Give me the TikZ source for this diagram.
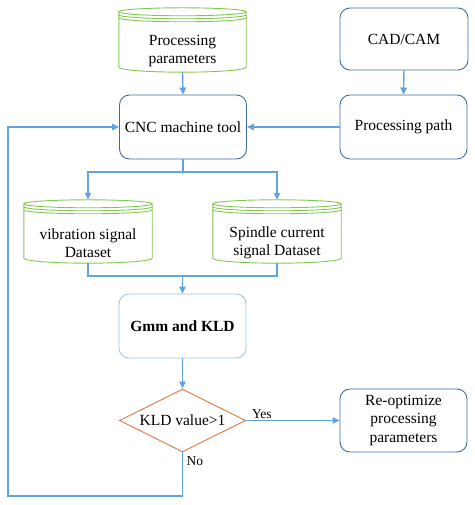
\documentclass[tikz,border=0pt]{standalone}
\usepackage{fontspec}
\setmainfont{Liberation Serif}
\usetikzlibrary{shapes.geometric,arrows.meta,calc}
\definecolor{conn}{RGB}{96,163,226}
\definecolor{boxb}{RGB}{62,108,158}
\definecolor{gmmb}{RGB}{160,196,230}
\definecolor{cylg}{RGB}{130,200,80}
\definecolor{diao}{RGB}{226,120,60}
\tikzset{
  body/.style={font=\fontsize{15.5}{18.5}\selectfont, align=center, inner sep=0pt},
  rbox/.style={body, draw=boxb, line width=0.9pt, rounded corners=10pt, minimum width=127, minimum height=64},
  gbox/.style={body, draw=gmmb, line width=0.9pt, rounded corners=10pt, minimum width=127, minimum height=64},
  cylbody/.style={inner sep=0pt, minimum width=128, minimum height=63},
  cylst/.style={draw=cylg, line width=0.9pt},
  dia/.style={body, diamond, draw=diao, line width=0.9pt, minimum width=126, minimum height=63, aspect=2},
  conline/.style={draw=conn, line width=1.4pt},
  arr/.style={conline, -{Triangle[length=7pt,width=6.5pt]}},
  lab/.style={font=\fontsize{13.5}{16}\selectfont, inner sep=1pt},
}
\newcommand{\drawcyl}[1]{%
  \draw[cylst] let \p1=(#1.north west), \p2=(#1.south east), \n1={(\x2-\x1)/2} in
    (\x1,\y1-4pt) -- (\x1,\y2+5pt) arc[start angle=180,end angle=360,x radius=\n1,y radius=5pt] -- (\x2,\y1-4pt)
    (\x1+\n1,\y1-4pt) ellipse[x radius=\n1,y radius=4pt]
    (\x1,\y1-7pt) arc[start angle=180,end angle=360,x radius=\n1,y radius=4pt]
    (\x1,\y1-10pt) arc[start angle=180,end angle=360,x radius=\n1,y radius=4pt];
}
\begin{document}
\begin{tikzpicture}[x=1pt,y=1pt]
\useasboundingbox (0,0) rectangle (474,505);
% nodes
\node[cylbody, minimum width=127, minimum height=64] (pp) at (182.5,465) {};
\node[body] (ppt) at (182.5,454) {Processing\\parameters};
\node[rbox, minimum width=128, minimum height=62] (cad) at (404,466) {CAD/CAM};
\node[rbox] (cnc) at (183,378) {CNC machine tool};
\node[rbox] (path) at (403.5,378) {Processing path};
\node[cylbody] (vib) at (88,273.5) {};
\node[body] (vibt) at (88,262) {vibration signal\\Dataset};
\node[cylbody] (spin) at (277,273.5) {};
\node[body] (spint) at (277,262) {Spindle current\\signal Dataset};
\node[gbox] (gmm) at (182.5,179) {\textbf{Gmm and KLD}};
\node[dia] (kld) at (182.5,84.5) {KLD value>1};
\node[rbox, minimum height=63] (reopt) at (403.5,84.5) {Re-optimize\\processing\\parameters};
% cylinders
\drawcyl{pp}
\drawcyl{vib}
\drawcyl{spin}
% helper coordinates
\coordinate (j1) at (183,333);
\coordinate (j2) at (182.5,229);
\coordinate (l1) at (182.5,9);
\coordinate (l2) at (8,9);
\coordinate (l3) at (8,378);
% connectors
\draw[arr] (pp.south) -- (cnc.north);
\draw[arr] (cad.south) -- (path.north);
\draw[arr] (path.west) -- (cnc.east);
\draw[conline] (cnc.south) -- (j1);
\draw[arr] (j1) -| (vib.north);
\draw[arr] (j1) -| (spin.north);
\draw[conline] (vib.south) |- (j2);
\draw[conline] (spin.south) |- (j2);
\draw[arr] (j2) -- (gmm.north);
\draw[arr] (gmm.south) -- (kld.north);
\draw[arr] (kld.east) -- node[lab, pos=0.17, above] (yes) {Yes} (reopt.west);
\draw[arr] (kld.south) -- (l1) -- (l2) -- (l3) -- (cnc.west);
\node[lab, anchor=north west] (no) at ($(kld.south)+(3,-3)$) {No};
\end{tikzpicture}
\end{document}
